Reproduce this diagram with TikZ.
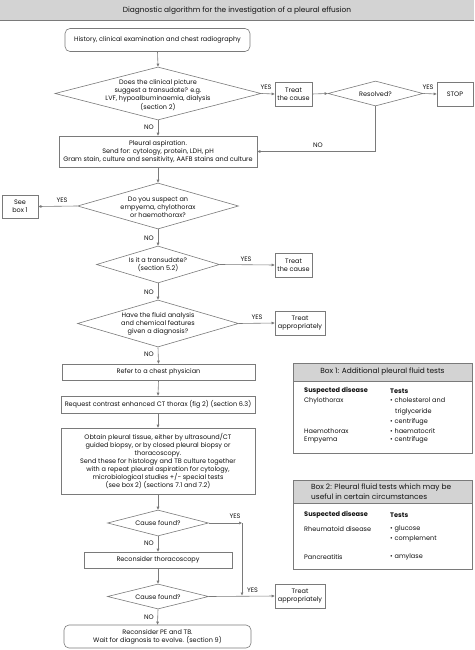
\documentclass[tikz,border=0pt]{standalone}
\usepackage{fontspec}
\setmainfont{Poppins}
\usetikzlibrary{shapes.geometric,arrows.meta}
\definecolor{lg}{HTML}{7A7A7A}
\definecolor{hdr}{HTML}{D3D3D3}
\definecolor{tx}{HTML}{111111}
\newcommand\fsz{\fontsize{6.5}{8.1}\selectfont}
\newcommand\fszb{\fontsize{6.6}{8.1}\selectfont}
\newcommand\fszt{\fontsize{7.4}{9.5}\selectfont}
\tikzset{
  every node/.style={text=tx, font=\fsz},
  box/.style={draw=lg, fill=white, line width=0.6pt, inner sep=0pt, align=center},
  rbox/.style={box, rounded corners=5pt},
  dia/.style={diamond, draw=lg, line width=0.6pt, inner sep=0pt},
  txt/.style={align=center, inner sep=0pt},
  lab/.style={inner sep=0pt},
  arr/.style={draw=lg, line width=0.6pt, -{Triangle[length=3pt,width=2.6pt]}},
  ln/.style={draw=lg, line width=0.6pt},
  sbox/.style={draw=lg, line width=0.6pt, fill=white},
  shdr/.style={draw=lg, line width=0.6pt, fill=hdr},
  cell/.style={inner sep=0pt, anchor=west}
}
\begin{document}
\begin{tikzpicture}[x=1pt,y=-1pt]
\useasboundingbox (0,0) rectangle (474,650);
% title bar
\fill[hdr] (0,0) rectangle (474,20);
\draw[lg, line width=0.8pt] (0,20) -- (474,20);
\node[lab, font=\fszt] (title) at (237,10.5) {Diagnostic algorithm for the investigation of a pleural effusion};

% nodes
\node[rbox, minimum width=185pt, minimum height=23pt] (n1) at (157.5,40) {History, clinical examination and chest radiography};
\node[dia, minimum width=206pt, minimum height=53pt] (d1) at (158,93.5) {};
\node[txt] (d1t) at (158,95) {Does the clinical picture\\suggest a transudate? e.g.\\LVF, hypoalbuminaemia, dialysis\\(section 2)};
\node[box, minimum width=37pt, minimum height=24pt] (t1) at (293.5,94) {Treat\\the cause};
\node[dia, minimum width=95pt, minimum height=25pt] (d7) at (375.5,93.5) {};
\node[txt] (d7t) at (375.5,94) {Resolved?};
\node[box, minimum width=36pt, minimum height=24pt] (stop) at (455,94) {STOP};
\node[box, minimum width=198pt, minimum height=31pt] (p) at (158,151.5) {Pleural aspiration.\\Send for: cytology, protein, LDH, pH\\Gram stain, culture and sensitivity, AAFB stains and culture};
\node[dia, minimum width=161pt, minimum height=46pt] (d2) at (158,206) {};
\node[txt] (d2t) at (158,207) {Do you suspect an\\empyema, chylothorax\\or haemothorax?};
\node[box, minimum width=36pt, minimum height=23pt] (see) at (20,206.5) {See\\box 1};
\node[dia, minimum width=123pt, minimum height=37pt] (d3) at (158,264.5) {};
\node[txt] (d3t) at (158,265) {Is it a transudate?\\(section 5.2)};
\node[box, minimum width=37pt, minimum height=24pt] (t2) at (293.5,265) {Treat\\the cause};
\node[dia, minimum width=161pt, minimum height=47pt] (d4) at (158,323.5) {};
\node[txt] (d4t) at (158,324) {Have the fluid analysis\\and chemical features\\given a diagnosis?};
\node[box, minimum width=50pt, minimum height=24pt] (t3) at (300,323) {Treat\\appropriately};
\node[box, minimum width=193pt, minimum height=16pt] (r1) at (158.5,372) {Refer to a chest physician};
\node[box, minimum width=194pt, minimum height=17pt] (r2) at (158,404.5) {Request contrast enhanced CT thorax (fig 2) (section 6.3)};
\node[box, minimum width=194pt, minimum height=66pt] (r3) at (158,461) {Obtain pleural tissue, either by ultrasound/CT\\guided biopsy, or by closed pleural biopsy or\\thoracoscopy.\\Send these for histology and TB culture together\\with a repeat pleural aspiration for cytology,\\microbiological studies +/\textminus{} special tests\\(see box 2) (sections 7.1 and 7.2)};
\node[dia, minimum width=101pt, minimum height=26pt] (d5) at (158,523) {};
\node[txt] (d5t) at (158,523.5) {Cause found?};
\node[box, minimum width=148pt, minimum height=16pt] (r4) at (158,560) {Reconsider thoracoscopy};
\node[dia, minimum width=101pt, minimum height=25pt] (d6) at (158,596.5) {};
\node[txt] (d6t) at (158,597) {Cause found?};
\node[box, minimum width=50pt, minimum height=24pt] (t4) at (300,596) {Treat\\appropriately};
\node[rbox, minimum width=187pt, minimum height=23pt] (r5) at (157.5,636.5) {Reconsider PE and TB.\\Wait for diagnosis to evolve. (section 9)};
\coordinate (c1) at (242,523);
\coordinate (c2) at (242,596.5);

% connectors
\draw[arr] (n1.south) -- (d1.north);
\draw[arr] (d1.east) -- (t1.west);
\draw[arr] (t1.east) -- (d7.west);
\draw[arr] (d7.east) -- (stop.west);
\draw[arr] (d7.south) |- (p.east);
\draw[arr] (d1.south) -- (p.north);
\draw[arr] (p.south) -- (d2.north);
\draw[arr] (d2.west) -- (see.east);
\draw[arr] (d2.south) -- (d3.north);
\draw[arr] (d3.east) -- (t2.west);
\draw[arr] (d3.south) -- (d4.north);
\draw[arr] (d4.east) -- (t3.west);
\draw[arr] (d4.south) -- (r1.north);
\draw[arr] (r1.south) -- (r2.north);
\draw[arr] (r2.south) -- (r3.north);
\draw[arr] (r3.south) -- (d5.north);
\draw[arr] (d5.east) -- (c1);
\draw[arr, shorten >=1pt] (c1) -- (c2);
\draw[arr] (d5.south) -- (r4.north);
\draw[arr] (r4.south) -- (d6.north);
\draw[arr] (d6.east) -- (t4.west);
\draw[arr] (d6.south) -- (r5.north);

% labels
\node[lab] (y1) at (266,87.5) {YES};
\node[lab] (y2) at (428,87.5) {YES};
\node[lab] (no1) at (149,127) {NO};
\node[lab] (no2) at (318,145) {NO};
\node[lab] (y3) at (62,200.5) {YES};
\node[lab] (no3) at (149,238.5) {NO};
\node[lab] (y4) at (246,259) {YES};
\node[lab] (no4) at (149,292) {NO};
\node[lab] (y5) at (257,317) {YES};
\node[lab] (no5) at (149,354) {NO};
\node[lab] (y6) at (235,516) {YES};
\node[lab] (no6) at (149,543) {NO};
\node[lab] (y7) at (252.5,590.5) {YES};
\node[lab] (no7) at (149,617) {NO};

% Box 1
\draw[sbox] (293,363) rectangle (472,453);
\draw[shdr] (293,363) rectangle (472,381);
\node[lab, font=\fszt] (b1h) at (382.5,372) {Box 1: Additional pleural fluid tests};
\node[cell, font=\fszb\bfseries] (b1c1) at (304,391) {Suspected disease};
\node[cell, font=\fszb\bfseries] (b1c2) at (390,391) {Tests};
\node[cell] (b1a) at (304,400.5) {Chylothorax};
\node[cell] (b1b) at (390,400.5) {\textbullet\ cholesterol and};
\node[cell] (b1b2) at (395,412) {triglyceride};
\node[cell] (b1c) at (390,422) {\textbullet\ centrifuge};
\node[cell] (b1d) at (304,431) {Haemothorax};
\node[cell] (b1e) at (390,431) {\textbullet\ haematocrit};
\node[cell] (b1f) at (304,440) {Empyema};
\node[cell] (b1g) at (390,440) {\textbullet\ centrifuge};

% Box 2
\draw[sbox] (293,480) rectangle (472,569);
\draw[shdr] (293,480) rectangle (472,503);
\node[lab, font=\fszt, align=left, anchor=west] (b2h) at (311,491.5) {Box 2: Pleural fluid tests which may be\\useful in certain circumstances};
\node[cell, font=\fszb\bfseries] (b2c1) at (304,515) {Suspected disease};
\node[cell, font=\fszb\bfseries] (b2c2) at (390,515) {Tests};
\node[cell] (b2a) at (304,529) {Rheumatoid disease};
\node[cell] (b2b) at (390,529) {\textbullet\ glucose};
\node[cell] (b2c) at (390,539) {\textbullet\ complement};
\node[cell] (b2d) at (304,557) {Pancreatitis};
\node[cell] (b2e) at (390,557) {\textbullet\ amylase};
\end{tikzpicture}
\end{document}
